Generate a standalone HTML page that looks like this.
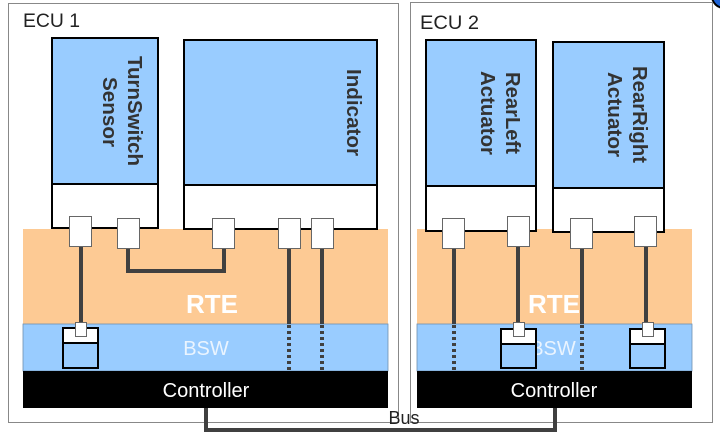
<!DOCTYPE html>
<html><head><meta charset="utf-8"><style>
html,body{margin:0;padding:0;background:#fff;}
svg{display:block;font-family:"Liberation Sans",sans-serif;}
</style></head><body>
<svg width="720" height="445" viewBox="0 0 720 445" xmlns="http://www.w3.org/2000/svg">
<circle cx="724" cy="-4" r="12" fill="#1e64d8" stroke="#000" stroke-width="2"/>
<rect x="8.5" y="3.5" width="390" height="419" fill="#fff" stroke="#888" stroke-width="1"/>
<rect x="410.5" y="2.5" width="302" height="420" fill="#fff" stroke="#888" stroke-width="1"/>
<text x="23" y="27" font-size="19" fill="#222" textLength="57" lengthAdjust="spacingAndGlyphs">ECU 1</text>
<text x="420" y="29" font-size="19" fill="#222" textLength="59" lengthAdjust="spacingAndGlyphs">ECU 2</text>

<rect x="23" y="229" width="365" height="95" fill="#fdca94"/>
<rect x="23" y="324" width="365" height="47" fill="#99ccff" stroke="#6f8fb0" stroke-width="0.8"/>
<rect x="23" y="371" width="365" height="37" fill="#000"/>
<rect x="417" y="229" width="275" height="95" fill="#fdca94"/>
<rect x="417" y="324" width="275" height="47" fill="#99ccff" stroke="#6f8fb0" stroke-width="0.8"/>
<rect x="417" y="371" width="275" height="37" fill="#000"/>

<g stroke="#000" stroke-width="2">
<rect x="52" y="38" width="106" height="190" fill="#fff"/>
<rect x="52" y="38" width="106" height="146" fill="#99ccff"/>
<rect x="184" y="40" width="193" height="189" fill="#fff"/>
<rect x="184" y="40" width="193" height="145" fill="#99ccff"/>
<rect x="426" y="40" width="110" height="191" fill="#fff"/>
<rect x="426" y="40" width="110" height="146" fill="#99ccff"/>
<rect x="553" y="42" width="111" height="190" fill="#fff"/>
<rect x="553" y="42" width="111" height="146" fill="#99ccff"/>
</g>
<g font-weight="bold" font-size="20" fill="#333">
<text transform="translate(128,56) rotate(90)" textLength="110" lengthAdjust="spacingAndGlyphs">TurnSwitch</text>
<text transform="translate(103,77) rotate(90)" textLength="70" lengthAdjust="spacingAndGlyphs">Sensor</text>
<text transform="translate(347,69) rotate(90)" textLength="87" lengthAdjust="spacingAndGlyphs">Indicator</text>
<text transform="translate(506,72) rotate(90)" textLength="82" lengthAdjust="spacingAndGlyphs">RearLeft</text>
<text transform="translate(481,71) rotate(90)" textLength="84" lengthAdjust="spacingAndGlyphs">Actuator</text>
<text transform="translate(633,66) rotate(90)" textLength="97" lengthAdjust="spacingAndGlyphs">RearRight</text>
<text transform="translate(608,72) rotate(90)" textLength="85" lengthAdjust="spacingAndGlyphs">Actuator</text>
</g>

<text x="212" y="313" font-size="26" font-weight="bold" fill="#fff" text-anchor="middle">RTE</text>
<text x="554" y="313" font-size="26" font-weight="bold" fill="#fff" text-anchor="middle">RTE</text>
<text x="206" y="355" font-size="20" fill="#eaf4ff" text-anchor="middle">BSW</text>
<text x="553" y="355" font-size="20" fill="#eaf4ff" text-anchor="middle">BSW</text>
<text x="206" y="397" font-size="20" fill="#fff" text-anchor="middle">Controller</text>
<text x="554" y="397" font-size="20" fill="#fff" text-anchor="middle">Controller</text>

<g stroke="#404040" stroke-width="4" fill="none">
<line x1="81" y1="246" x2="81" y2="324"/>
<polyline points="128,248 128,271 224,271 224,248"/>
<line x1="289" y1="248" x2="289" y2="324"/>
<line x1="322" y1="248" x2="322" y2="324"/>
<line x1="454" y1="248" x2="454" y2="324"/>
<line x1="518" y1="246" x2="518" y2="324"/>
<line x1="582" y1="248" x2="582" y2="324"/>
<line x1="646" y1="246" x2="646" y2="324"/>
</g>
<g stroke="#404040" stroke-width="4" stroke-dasharray="3,3" fill="none">
<line x1="289" y1="325" x2="289" y2="371"/>
<line x1="322" y1="325" x2="322" y2="371"/>
<line x1="454" y1="325" x2="454" y2="371"/>
<line x1="582" y1="325" x2="582" y2="371"/>
</g>

<g fill="#fff" stroke="#666" stroke-width="1">
<rect x="69.5" y="216.5" width="22" height="30"/>
<rect x="117.5" y="218.5" width="22" height="30"/>
<rect x="212.5" y="218.5" width="22" height="30"/>
<rect x="278.5" y="218.5" width="22" height="30"/>
<rect x="311.5" y="218.5" width="22" height="30"/>
<rect x="442.5" y="218.5" width="22" height="30"/>
<rect x="507.5" y="216.5" width="22" height="30"/>
<rect x="570.5" y="218.5" width="22" height="30"/>
<rect x="634.5" y="216.5" width="22" height="30"/>
</g>

<g stroke="#000" stroke-width="2">
<rect x="63" y="328" width="35" height="40" fill="#99ccff"/>
<rect x="63" y="328" width="35" height="15" fill="#fff"/>
<rect x="501" y="329" width="35" height="39" fill="#99ccff"/>
<rect x="501" y="329" width="35" height="15" fill="#fff"/>
<rect x="630" y="329" width="35" height="39" fill="#99ccff"/>
<rect x="630" y="329" width="35" height="15" fill="#fff"/>
</g>
<g fill="#fff" stroke="#666" stroke-width="1">
<rect x="75.5" y="322.5" width="11" height="14"/>
<rect x="513.5" y="322.5" width="11" height="14"/>
<rect x="642.5" y="322.5" width="11" height="14"/>
</g>

<polyline points="206,408 206,430 555,430 555,408" fill="none" stroke="#404040" stroke-width="4"/>
<text x="404" y="424" font-size="18" fill="#222" text-anchor="middle">Bus</text>
</svg>
</body></html>
